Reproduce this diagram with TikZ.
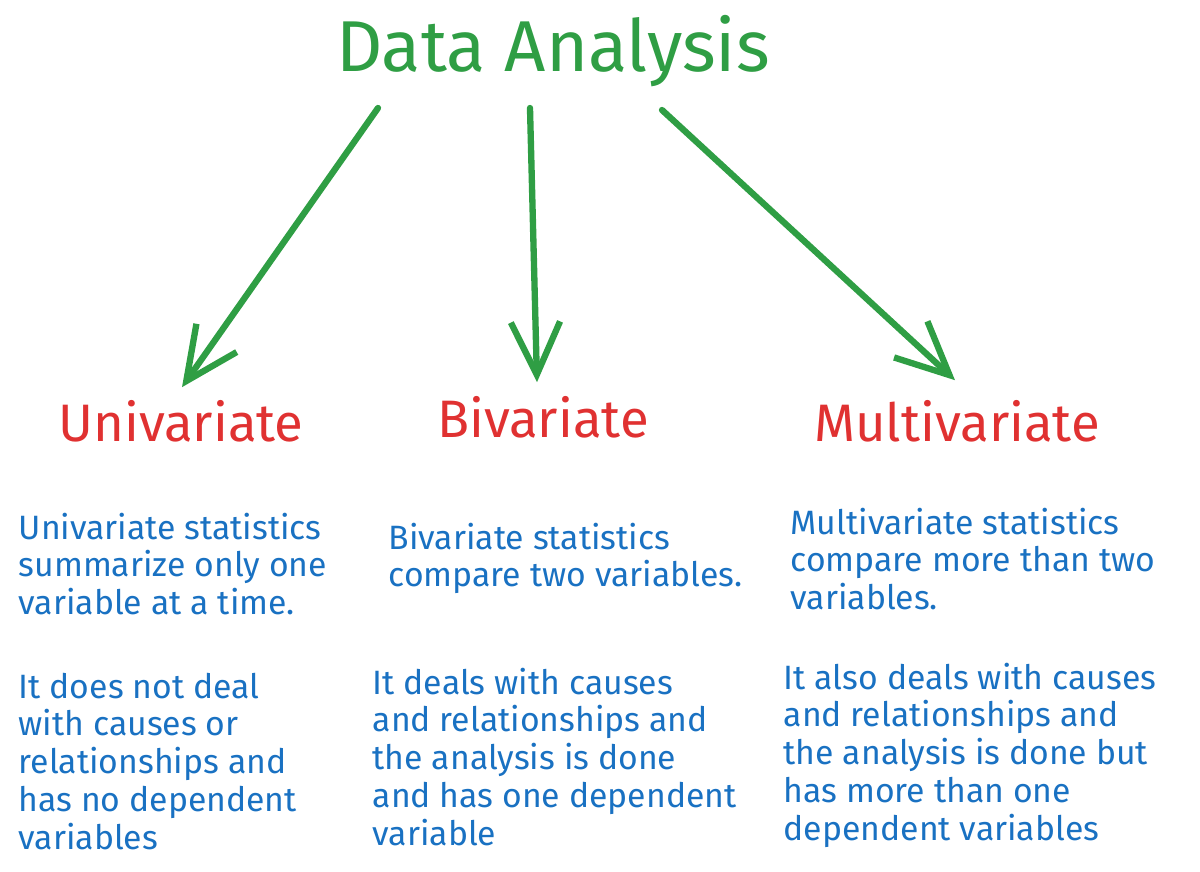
\documentclass[tikz,border=0pt]{standalone}
\usepackage{fontspec}
\setmainfont{Fira Sans}
\usetikzlibrary{arrows.meta}
\definecolor{exgreen}{HTML}{2F9E44}
\definecolor{exred}{HTML}{E03131}
\definecolor{exblue}{HTML}{1971C2}
\begin{document}
\begin{tikzpicture}[
    arr/.style={exgreen,line width=1.8pt,line cap=round,-{Straight Barb[length=15pt,width=14pt,line width=1.8pt]}},
    kind/.style={exred,anchor=base,inner sep=0pt,font=\fontsize{15}{18}\selectfont},
    note/.style={exblue,anchor=north west,inner sep=0pt,align=left,font=\fontsize{9.6}{10.8}\selectfont}]
    \useasboundingbox (0,0) rectangle (12,8.71);
    % title =================================================
    \node[exgreen,anchor=base,inner sep=0pt,font=\fontsize{20.5}{24}\selectfont] (title) at (5.53,7.99) {Data Analysis};
    \coordinate (t1) at (3.78,7.63);
    \coordinate (t2) at (5.30,7.63);
    \coordinate (t3) at (6.62,7.61);
    % kinds =================================================
    \node[kind] (uni)   at (1.81,4.29) {Univariate};
    \node[kind] (bi)    at (5.43,4.33) {Bivariate};
    \node[kind] (multi) at (9.57,4.29) {Multivariate};
    \draw[arr] (t1) -- ([shift={(0.01,0.13)}]uni.north);
    \draw[arr] (t2) -- ([shift={(-0.06,0.14)}]bi.north);
    \draw[arr] (t3) -- ([shift={(-0.02,0.20)}]multi.north);
    % notes =================================================
    \node[note] (uni1)   at (0.18,3.59) {Univariate statistics\\summarize only one\\variable at a time.};
    \node[note] (uni2)   at (0.18,1.99) {It does not deal\\with causes or\\relationships and\\has no dependent\\variables};
    \node[note] (bi1)    at (3.88,3.49) {Bivariate statistics\\compare two variables.};
    \node[note] (bi2)    at (3.72,2.04) {It deals with causes\\and relationships and\\the analysis is done\\and has one dependent\\variable};
    \node[note] (multi1) at (7.90,3.64) {Multivariate statistics\\compare more than two\\variables.};
    \node[note] (multi2) at (7.83,2.09) {It also deals with causes\\and relationships and\\the analysis is done but\\has more than one\\dependent variables};
\end{tikzpicture}
\end{document}
